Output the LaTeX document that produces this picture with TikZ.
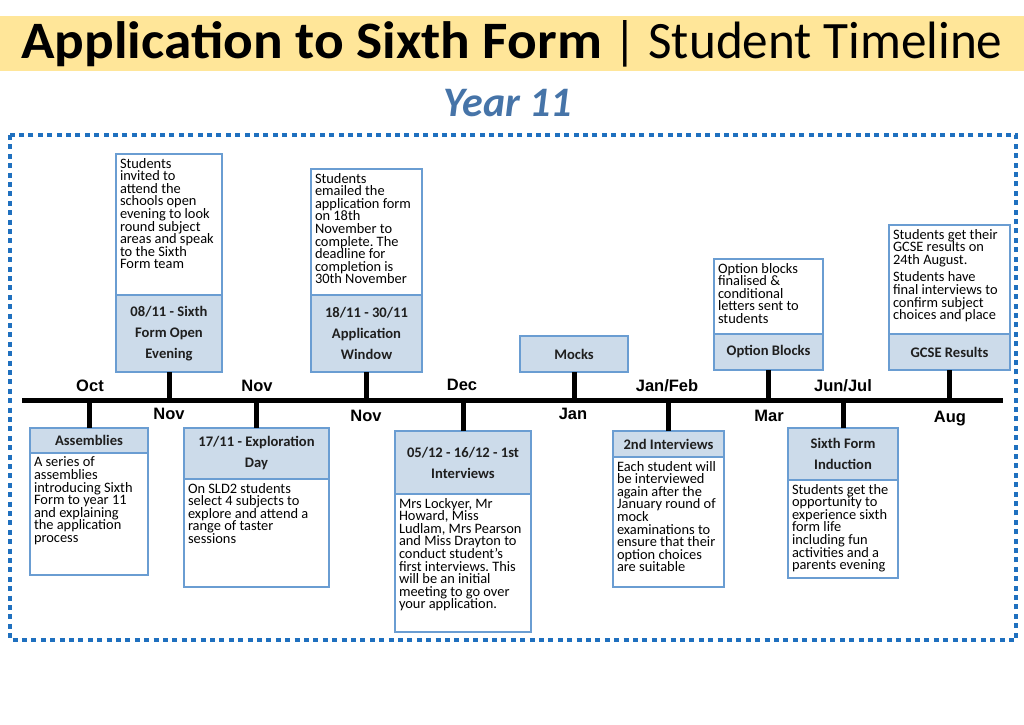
\documentclass[tikz,border=0pt]{standalone}
\usepackage{fontspec}
\setmainfont{Carlito}
\newfontfamily\arialfont{Liberation Sans}
\usetikzlibrary{positioning}
\frenchspacing
\definecolor{cband}{HTML}{FFE699}
\definecolor{cyear}{HTML}{4674A8}
\definecolor{cframe}{HTML}{1F70BF}
\definecolor{cline}{HTML}{6A9DD2}
\definecolor{chead}{HTML}{CCDBEA}
\tikzset{
  every picture/.style={x=1pt, y=-1pt},
  head/.style={draw=cline, fill=chead, line width=2.4pt, outer sep=0pt, inner sep=2pt, align=center, text=black!88, font=\bfseries\fontsize{14.6}{21}\selectfont},
  desc/.style 2 args={draw=cline, fill=white, line width=2.4pt, outer sep=0pt, inner xsep=4pt, inner ysep=4pt,
    font=\fontsize{14.4}{12.6}\selectfont,
    execute at begin node={\begin{minipage}[t][#2][t]{#1}\raggedright}, execute at end node={\end{minipage}}},
  month/.style={font=\arialfont\bfseries\fontsize{16.5}{18}\selectfont},
  stem/.style={line width=5pt},
  dotframe/.style={draw=cframe, line width=4.5pt, dash pattern=on 5pt off 4.4pt},
}

\begin{document}
\begin{tikzpicture}
  \useasboundingbox (0,0) rectangle (1024,724);
  % heading
  \node[fill=cband, minimum width=1024pt, minimum height=55pt, inner sep=0pt] (band) at (512,43) {};
  \node[inner sep=0pt] (title) at (512,44) {\resizebox{981pt}{38pt}{\scalebox{1.08}[1]{\textbf{Application to Sixth Form}} | Student Timeline}};
  \node[text=cyear, font=\bfseries\itshape\fontsize{42}{44}\selectfont] (year) at (508,103) {Year 11};
  \draw[dotframe] (10,135) rectangle (1016,640);

  % the timeline
  \coordinate (tlL) at (22,400);
  \coordinate (tlR) at (1003,400);
  \draw[line width=5pt] (tlL) -- (tlR);

  \node[month] (mOct) at (90,386) {Oct};
  \node[month] (mNovA) at (257,386) {Nov};
  \node[month] (mDec) at (462,385) {Dec};
  \node[month] (mJanFeb) at (667,386) {Jan/Feb};
  \node[month] (mJunJul) at (843,386) {Jun/Jul};
  \node[month] (mNovB) at (169,414) {Nov};
  \node[month] (mNovC) at (366,416) {Nov};
  \node[month] (mJan) at (573,414) {Jan};
  \node[month] (mMar) at (769,416) {Mar};
  \node[month] (mAug) at (950,419) {Aug};

  % events above the line
  \node[head, minimum width=106pt, minimum height=77pt] (open) at (169,333.5) {08/11 - Sixth\\Form Open\\Evening};
  \node[desc={98pt}{133pt}, above=0pt of open] (openD) {Students\\invited to\\attend the\\schools open\\evening to look\\round subject\\areas and speak\\to the Sixth\\Form team};
  \coordinate (tOpen) at (169,400);
  \draw[stem] (open.south) -- (tOpen);

  \node[head, minimum width=111pt, minimum height=77pt] (app) at (366.5,333.5) {18/11 - 30/11\\Application\\Window};
  \node[desc={103pt}{118pt}, above=0pt of app] (appD) {Students\\emailed the\\application form\\on 18th\\November to\\complete. The\\deadline for\\completion is\\30th November};
  \coordinate (tApp) at (366.5,400);
  \draw[stem] (app.south) -- (tApp);

  \node[head, minimum width=108pt, minimum height=36pt] (mocks) at (574,354) {Mocks};
  \coordinate (tMocks) at (574,400);
  \draw[stem] (mocks.south) -- (tMocks);

  \node[head, minimum width=109pt, minimum height=36pt] (option) at (768.5,352) {Option Blocks};
  \node[desc={101pt}{67pt}, above=0pt of option] (optionD) {Option blocks\\finalised \&\\conditional\\letters sent to\\students};
  \coordinate (tOption) at (768.5,400);
  \draw[stem] (option.south) -- (tOption);

  \node[head, minimum width=121pt, minimum height=36pt] (gcse) at (949.5,352) {GCSE Results};
  \node[desc={113pt}{101pt}, above=0pt of gcse] (gcseD) {Students get their\\GCSE results on\\24th August.\par\vspace{5pt}Students have\\final interviews to\\confirm subject\\choices and place};
  \coordinate (tGcse) at (949.5,400);
  \draw[stem] (gcse.south) -- (tGcse);

  % events below the line
  \node[head, minimum width=118pt, minimum height=25pt] (assem) at (89,440.5) {Assemblies};
  \node[desc={110pt}{114pt}, below=0pt of assem] (assemD) {A series of\\assemblies\\introducing Sixth\\Form to year 11\\and explaining\\the application\\process};
  \coordinate (tAssem) at (89,400);
  \draw[stem] (assem.north) -- (tAssem);

  \node[head, minimum width=145pt, minimum height=51pt] (explore) at (256.5,453.5) {17/11 - Exploration\\Day};
  \node[desc={137pt}{100pt}, below=0pt of explore] (exploreD) {On SLD2 students\\select 4 subjects to\\explore and attend a\\range of taster\\sessions};
  \coordinate (tExplore) at (256.5,400);
  \draw[stem] (explore.north) -- (tExplore);

  \node[head, minimum width=136pt, minimum height=63pt] (first) at (463,462.5) {05/12 - 16/12 - 1st\\Interviews};
  \node[desc={128pt}{130pt}, below=0pt of first] (firstD) {Mrs Lockyer, Mr\\Howard, Miss\\Ludlam, Mrs Pearson\\and Miss Drayton to\\conduct student’s\\first interviews. This\\will be an initial\\meeting to go over\\your application.};
  \coordinate (tFirst) at (463,400);
  \draw[stem] (first.north) -- (tFirst);

  \node[head, minimum width=111pt, minimum height=26pt] (second) at (668.5,444) {2nd Interviews};
  \node[desc={103pt}{122pt}, below=0pt of second] (secondD) {Each student will\\be interviewed\\again after the\\January round of\\mock\\examinations to\\ensure that their\\option choices\\are suitable};
  \coordinate (tSecond) at (668.5,400);
  \draw[stem] (second.north) -- (tSecond);

  \node[head, minimum width=110pt, minimum height=52pt] (induct) at (843,454) {Sixth Form\\Induction};
  \node[desc={102pt}{90pt}, below=0pt of induct] (inductD) {Students get the\\opportunity to\\experience sixth\\form life\\including fun\\activities and a\\parents evening};
  \coordinate (tInduct) at (843,400);
  \draw[stem] (induct.north) -- (tInduct);
\end{tikzpicture}
\end{document}
